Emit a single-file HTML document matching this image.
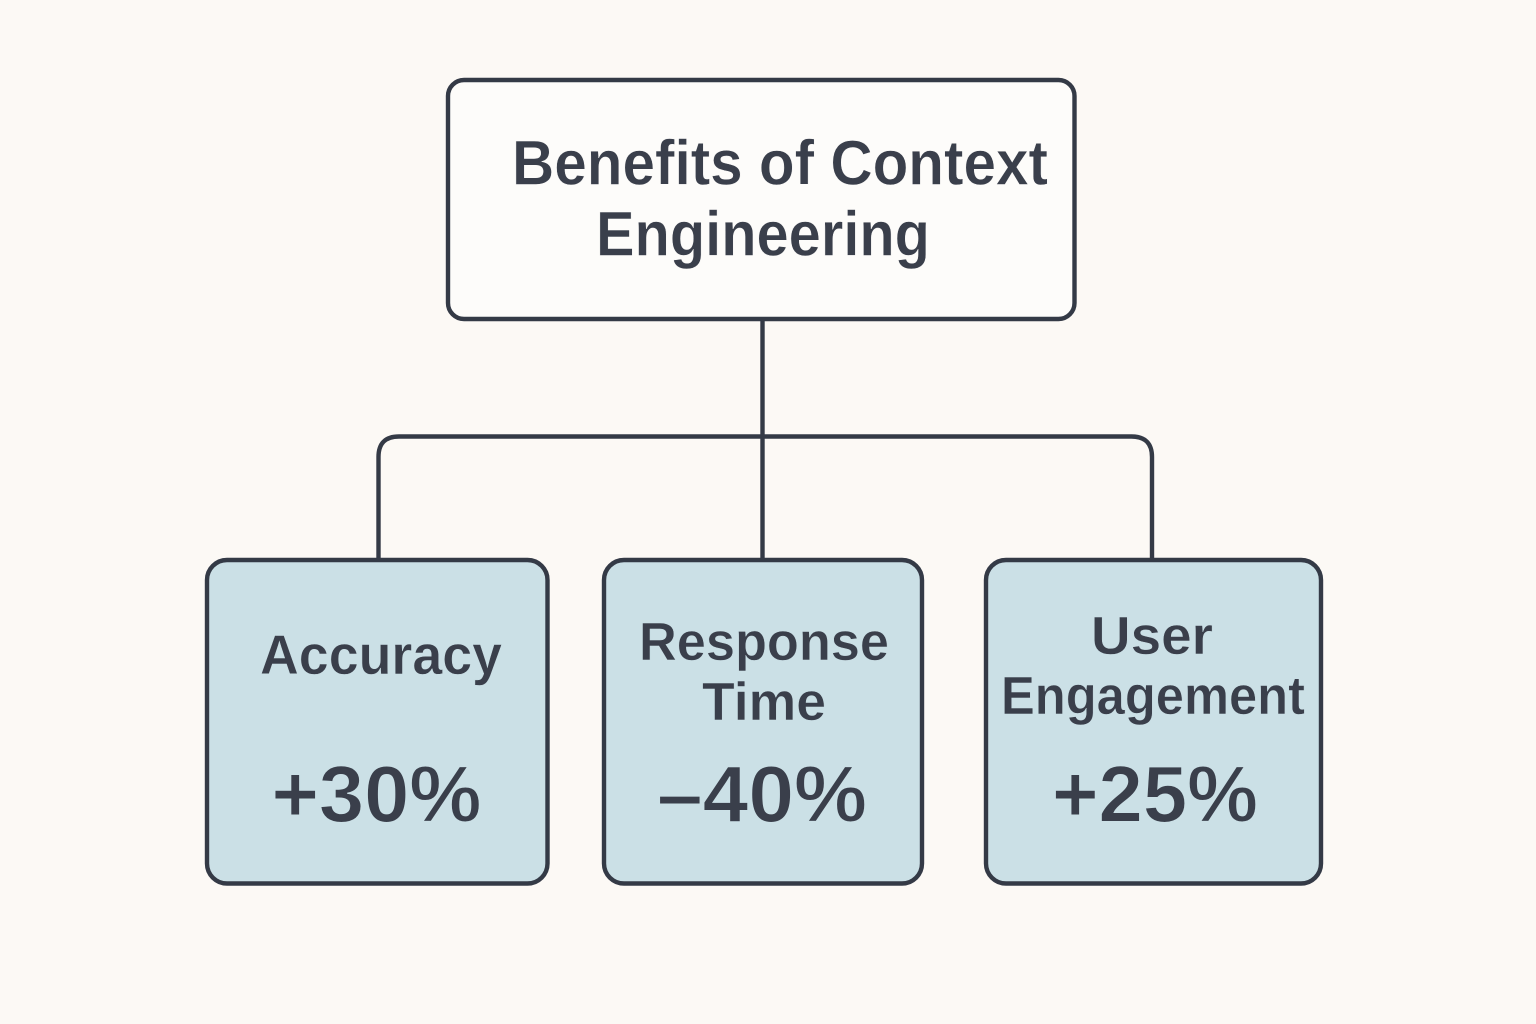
<!DOCTYPE html>
<html>
<head>
<meta charset="utf-8">
<style>
html,body{margin:0;padding:0;background:#fcf9f5;}
svg{display:block;}
text{font-family:"Liberation Sans",sans-serif;font-weight:700;fill:#3a3f4b;}
.t{stroke:#fdfcfa;stroke-width:.5px;}
.l{stroke:#cbe0e6;stroke-width:.5px;}
.n{stroke:#cbe0e6;stroke-width:1.1px;}
</style>
</head>
<body>
<svg width="1536" height="1024" viewBox="0 0 1536 1024" xmlns="http://www.w3.org/2000/svg">
<rect width="1536" height="1024" fill="#fcf9f5"/>
<g fill="none" stroke="#343a46" stroke-width="4.4">
<path d="M762.5 318V560"/>
<path d="M378.5 560V457Q378.5 436.5 399 436.5H1131.5Q1152 436.5 1152 457V560"/>
</g>
<g stroke="#343a46" stroke-width="4.4">
<rect x="448" y="80" width="626.5" height="239" rx="16" fill="#fdfcfa"/>
<rect x="207" y="560" width="340.5" height="323.5" rx="20" fill="#cbe0e6"/>
<rect x="604" y="560" width="318" height="323.5" rx="20" fill="#cbe0e6"/>
<rect x="986" y="560" width="335" height="323.5" rx="20" fill="#cbe0e6"/>
</g>
<text class="t" x="780" y="184.5" font-size="63" text-anchor="middle" textLength="536" lengthAdjust="spacingAndGlyphs">Benefits of Context</text>
<text class="t" x="763" y="255.5" font-size="63" text-anchor="middle" textLength="334" lengthAdjust="spacingAndGlyphs">Engineering</text>
<text class="l" x="381" y="674" font-size="56" text-anchor="middle" textLength="242" lengthAdjust="spacingAndGlyphs">Accuracy</text>
<text class="l" x="764" y="660" font-size="54" text-anchor="middle" textLength="250" lengthAdjust="spacingAndGlyphs">Response</text>
<text class="l" x="764" y="720" font-size="54" text-anchor="middle" textLength="124" lengthAdjust="spacingAndGlyphs">Time</text>
<text class="l" x="1152" y="654" font-size="54" text-anchor="middle" textLength="122" lengthAdjust="spacingAndGlyphs">User</text>
<text class="l" x="1153" y="714" font-size="54" text-anchor="middle" textLength="304" lengthAdjust="spacingAndGlyphs">Engagement</text>
<text class="n" x="376.5" y="821.5" font-size="80" text-anchor="middle" textLength="210" lengthAdjust="spacingAndGlyphs">+30%</text>
<text class="n" x="762" y="821.5" font-size="80" text-anchor="middle" textLength="210" lengthAdjust="spacingAndGlyphs">–40%</text>
<text class="n" x="1155" y="821.5" font-size="80" text-anchor="middle" textLength="206" lengthAdjust="spacingAndGlyphs">+25%</text>
</svg>
</body>
</html>
